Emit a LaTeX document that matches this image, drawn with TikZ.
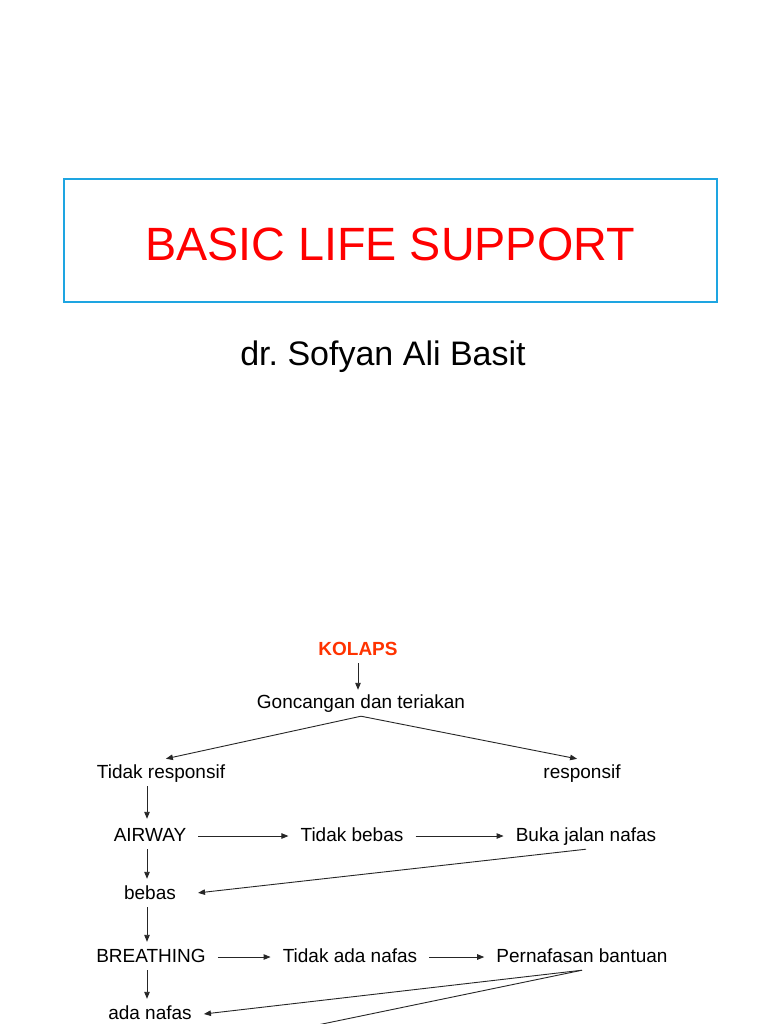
\documentclass[tikz,border=0pt]{standalone}
\usepackage{fontspec}
\setmainfont{Liberation Sans}
\usetikzlibrary{arrows.meta}
\definecolor{boxblue}{RGB}{30,165,225}
\definecolor{kolred}{RGB}{255,51,0}
\begin{document}
\begin{tikzpicture}[x=1pt, y=-1pt,
  step node/.style={anchor=base, font=\fontsize{19}{22}\selectfont, text height=14pt, text depth=4pt, inner xsep=12pt, inner ysep=4pt},
  flow/.style={-{Triangle[length=7pt,width=5.5pt]}, line width=0.9pt, draw=black!85}]
\clip (0,0) rectangle (768,1024);
\fill [white] (0,0) rectangle (768,1024);
\draw [boxblue, line width=2pt] (64,179) rectangle (717,302);
\node (title) [anchor=base, text=red, font=\fontsize{46.7}{50}\selectfont] at (390,260) {BASIC LIFE SUPPORT};
\node (author) [anchor=base, font=\fontsize{34}{38}\selectfont] at (383,365) {dr.\ Sofyan Ali Basit};
\node (kol) [step node, text=kolred, font=\fontsize{19}{22}\selectfont\bfseries] at (358,655) {KOLAPS};
\node (gonc) [step node] at (361,708) {Goncangan dan teriakan};
\node (tr) [step node] at (161,778) {Tidak responsif};
\node (resp) [step node] at (582,778) {responsif};
\node (air) [step node] at (150,841) {AIRWAY};
\node (tb) [step node] at (352,841) {Tidak bebas};
\node (buka) [step node] at (586,841) {Buka jalan nafas};
\node (beb) [step node] at (150,899) {bebas};
\node (brth) [step node] at (151,962) {BREATHING};
\node (tan) [step node] at (350,962) {Tidak ada nafas};
\node (pern) [step node] at (582,962) {Pernafasan bantuan};
\node (ada) [step node] at (150,1019) {ada nafas};
\coordinate (spine) at (147,0);
\coordinate (offpage) at (245,1040);
\draw [flow] (kol.south) -- (kol.south |- gonc.north);
\draw [flow, shorten >=5pt] (gonc.south) -- (tr.north);
\draw [flow, shorten >=5pt] (gonc.south) -- (resp.north);
\draw [flow, shorten >=4pt] (tr.south -| spine) -- (air.north -| spine);
\draw [flow] (air) -- (tb);
\draw [flow] (tb) -- (buka);
\draw [flow, shorten >=10pt] (buka.south) -- (beb.east);
\draw [flow, shorten >=2pt] (air.south -| spine) -- (beb.north -| spine);
\draw [flow, shorten >=2pt] (beb.south -| spine) -- (brth.north -| spine);
\draw [flow] (brth) -- (tan);
\draw [flow] (tan) -- (pern);
\draw [flow, shorten >=2pt] (brth.south -| spine) -- (ada.north -| spine);
\draw [flow] (pern.south) -- (ada.east);
\draw [flow] (pern.south) -- (offpage);
\end{tikzpicture}
\end{document}
